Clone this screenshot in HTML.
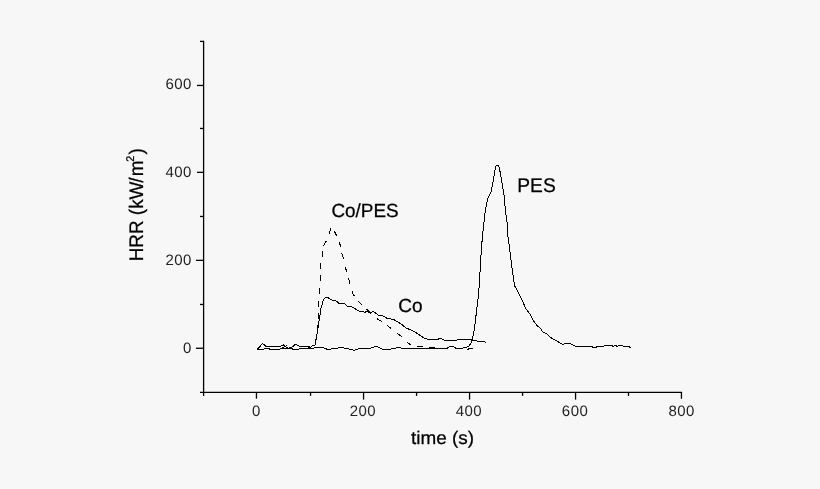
<!DOCTYPE html>
<html><head><meta charset="utf-8"><title>HRR vs time</title>
<style>
html,body{margin:0;padding:0;background:#f7f7f7;}
body{width:820px;height:489px;overflow:hidden;}
svg{display:block;font-family:"Liberation Sans",Arial,sans-serif;text-rendering:geometricPrecision;}
.ax line{stroke:#000;stroke-width:1.3;}
.tk text{font-size:15px;fill:#222;}
.lb text{font-size:19px;fill:#000;stroke:#000;stroke-width:0.25px;}
.cv polyline{fill:none;stroke:#000;stroke-width:1;stroke-linejoin:round;shape-rendering:crispEdges;}
</style></head><body>
<svg width="820" height="489" viewBox="0 0 820 489">
<rect width="820" height="489" fill="#f7f7f7"/>
<g class="ax">
<line x1="203.6" y1="40.8" x2="203.6" y2="395.97"/>
<line x1="200.0" y1="392.47" x2="682.05" y2="392.47"/>
<line x1="197.0" y1="85.45" x2="203.6" y2="85.45"/>
<line x1="197.0" y1="172.35" x2="203.6" y2="172.35"/>
<line x1="195.9" y1="260.35" x2="203.6" y2="260.35"/>
<line x1="195.9" y1="348.26" x2="203.6" y2="348.26"/>
<line x1="200" y1="41.4" x2="203.6" y2="41.4"/>
<line x1="200" y1="128.45" x2="203.6" y2="128.45"/>
<line x1="200" y1="216.45" x2="203.6" y2="216.45"/>
<line x1="200" y1="304.45" x2="203.6" y2="304.45"/>
<line x1="256.45" y1="392.47" x2="256.45" y2="398.7"/>
<line x1="363.56" y1="392.47" x2="363.56" y2="399.6"/>
<line x1="469.56" y1="392.47" x2="469.56" y2="399.6"/>
<line x1="575.56" y1="392.47" x2="575.56" y2="399.6"/>
<line x1="681.45" y1="392.47" x2="681.45" y2="398.8"/>
<line x1="310.56" y1="392.47" x2="310.56" y2="395.9"/>
<line x1="416.56" y1="392.47" x2="416.56" y2="395.9"/>
<line x1="522.56" y1="392.47" x2="522.56" y2="395.9"/>
<line x1="628.5" y1="392.47" x2="628.5" y2="395.9"/>
</g>
<g class="tk">
<text transform="translate(191.3,88.65) scale(1,1.0)" text-anchor="end" textLength="25.92" lengthAdjust="spacing">600</text>
<text transform="translate(191.3,176.65) scale(1,1.0)" text-anchor="end" textLength="25.92" lengthAdjust="spacing">400</text>
<text transform="translate(191.3,264.65) scale(1,1.0)" text-anchor="end" textLength="25.92" lengthAdjust="spacing">200</text>
<text transform="translate(191.3,352.65) scale(1,1.0)" text-anchor="end" textLength="8.34" lengthAdjust="spacing">0</text>
<text transform="translate(256.2,415.65) scale(1,1.0)" text-anchor="middle" textLength="8.34" lengthAdjust="spacing">0</text>
<text transform="translate(362.6,415.65) scale(1,1.0)" text-anchor="middle" textLength="25.92" lengthAdjust="spacing">200</text>
<text transform="translate(468.7,415.65) scale(1,1.0)" text-anchor="middle" textLength="25.92" lengthAdjust="spacing">400</text>
<text transform="translate(574.8,415.65) scale(1,1.0)" text-anchor="middle" textLength="25.92" lengthAdjust="spacing">600</text>
<text transform="translate(681.5,415.65) scale(1,1.0)" text-anchor="middle" textLength="25.92" lengthAdjust="spacing">800</text>
</g>
<g class="cv">
<polyline points="257.4,349.4 262.8,349.4 266,348 269.6,349 279,349.2 284,348.5 290,348 293,349.5 297,350 300,348.5 310,348.4 322.5,347.3 327.7,349.5 341.7,347.5 354.2,350.2 360.8,348.3 370.4,348.3 376.3,346.1 382.2,349.3 389.5,349.3 398.4,347.5 405.9,348.9 420.6,348.9 422.6,348.3 447.1,348.3 450.5,346.3 453,346.3 455.4,348 460.8,348.5 466.5,347.3 468.7,346.5 470.7,343.6 472.6,337.7 474.6,327.9 476.8,308.7 478.6,294 480.1,270.6 481.2,251.5 482.4,236.7 483.9,222.7 484.9,213.3 486.8,203 487.9,198.6 490.8,192.7 493,182.4 495.2,169.1 496,165.9 498.2,165 499.6,169.1 501.9,182.4 504.1,195.7 505.5,211.9 507,222 508,236.7 510,251.5 512.2,269.1 513.6,279.4 514.7,286.1 517.3,290.5 518.8,294 522.5,300.6 525.4,308 529.8,313.9 534.3,322 537.2,325.7 540,327.7 542.9,332.1 546.6,333.6 551,337.7 556.2,340.6 562.8,344.6 565,343.4 569.5,343.4 575.3,346.1 591.5,346.1 593,347.3 596,347.3 598.2,346.2 604.1,346.1 606.3,345.3 611.4,345.3 612.9,346.4 615.1,345.3 617.3,346.4 619.5,345.3 621.7,345.3 623.9,346.4 628.4,346.4 630.6,347.6"/>
<polyline points="257.4,349.4 262.5,343.5 266,346.3 269.6,346.6 279.4,346.6 283.4,344.9 288,348.5 292.2,347 295.6,344.2 299,346 303,346.8 310.8,347.1 312.9,345.6 315.2,345.0 317.4,332.1 319.1,320.3 321,308.5 323.3,300.4 325.5,297.2 327.7,297.5 332.1,300 336.5,301.1 338.7,303.4 344.6,303.4 347.6,306.3 350.5,306.3 354.2,308.2 359.3,311.2 365.2,312.2 367.4,310.7 369.6,312.9 373.3,311.5 378.5,315.1 382.9,315.9 386.6,318.1 393.9,319.6 401.3,324 405.9,327.9 413.7,331.3 424.5,338.2 427.5,339.1 438.3,339.1 439.7,338.2 444.2,340.1 454.5,340.1 455.9,341.1 458.4,339.1 468.7,339.1 472.6,340.6 478.5,341.1 483.4,341.1 485.7,342.3"/>
<polyline points="330.5,227.7 329.5,233.6 326.5,240.9 323.6,245.3 322.4,251.2 322.4,257.1 320.6,263.0 320.6,274.8 319.6,287.9 318.8,302.6 318.1,318.8 317.4,330.6 315.2,343.9 311.5,346.8 303.0,347.0 299.0,348.0 295.6,350.0 292.2,348.5 288.0,345.0 283.4,347.5 279.4,349.1 269.6,349.1 262.8,349.4 257.4,349.4" stroke-dasharray="5.9 8.0 5.9 5.4 5.9 6.1 5.9 5.9 5.9 7.3 5.9 6.9 5.9 6.3 5.9 6.5 5.9 7.0 5.9 6.6 5.9 6.6 5.9 6.6 5.9 6.6 5.9 6.6 5.9 50"/>
<polyline points="330.5,227.7 333.9,230.6 336.8,235.8 339.3,241.7 340.8,247.6 341.8,253.4 343.8,259.3 345.2,266.7 347.1,273.3 349.5,282.0 352.7,293.8 357.9,301.1 363.0,305.6 368.2,310.7 377.0,318.8 382.9,321.8 386.6,324.7 391.7,329.1 396.9,333.5 402.0,336.5 406.5,341.6 410.1,344.6 416.8,346.4 421.9,346.4 427.8,347.5 433.9,347.8 447.0,348.3 454.5,348.0 460.0,348.2 467.2,349.1 472.7,348.7" stroke-dasharray="0 4.5 5.8 6.5 5.8 6.2 5.8 8.0 5.8 6.4 5.8 7.0 5.8 5.6 5.8 6.8 5.8 8.3 5.8 5.5 5.8 7.8 5.8 6.9 5.8 5.8 5.8 6.9 5.8 6.6 5.8 6.9 5.8 7.0 5.8 50"/>
</g>
<g class="lb">
<text x="331.4" y="217.35" textLength="67.3" lengthAdjust="spacingAndGlyphs">Co/PES</text>
<text x="398.3" y="312.4" textLength="24.4" lengthAdjust="spacingAndGlyphs">Co</text>
<text x="517.3" y="191.6" style="font-size:19.8px" textLength="38.4" lengthAdjust="spacingAndGlyphs">PES</text>
<text x="411.0" y="444.2" style="font-size:18.3px" textLength="63.0" lengthAdjust="spacingAndGlyphs">time (s)</text>
<text transform="translate(143.4,261.3) rotate(-90)" style="font-size:19.6px" textLength="113" lengthAdjust="spacingAndGlyphs">HRR (kW<tspan dx="-1.2">/</tspan><tspan dx="1.2">m</tspan><tspan style="font-size:11.2px" dy="-9.4" dx="-1.2">2</tspan><tspan dy="9.4" dx="1.2">)</tspan></text>
</g>
</svg>
</body></html>
